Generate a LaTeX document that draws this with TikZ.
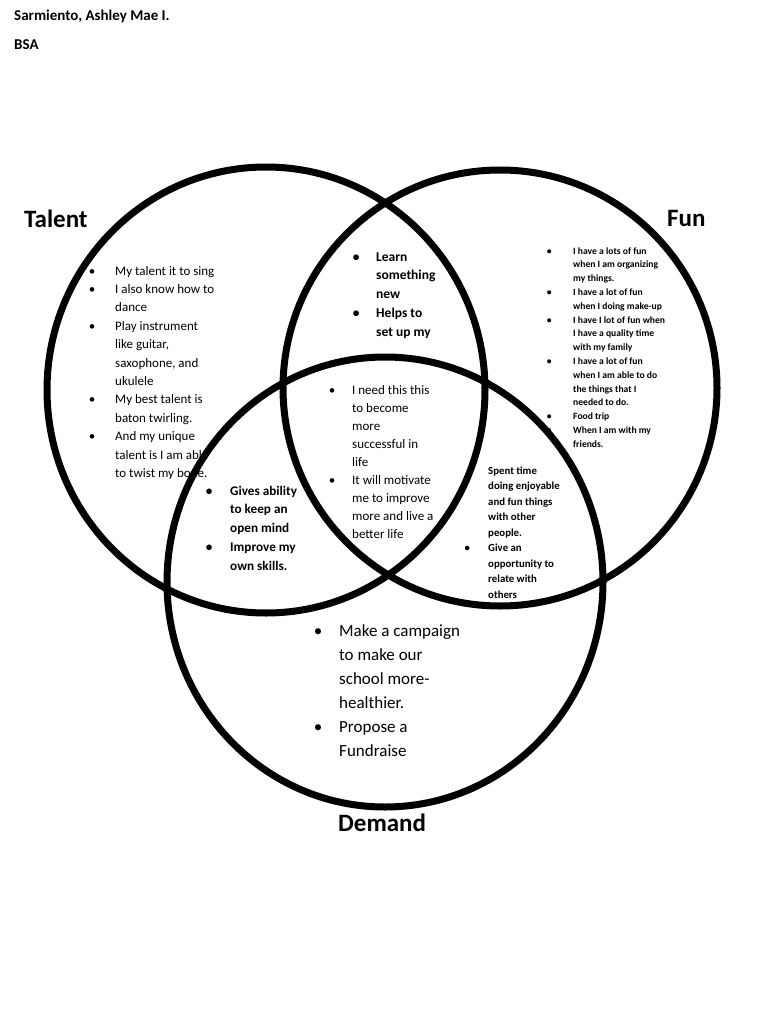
\documentclass[tikz,border=0pt]{standalone}
\usepackage{fontspec}
\setmainfont{Carlito}
\newcommand\bul[1]{\llap{\makebox[0pt]{\textbullet}\hspace{#1pt}}}
\begin{document}
\begin{tikzpicture}[x=1pt,y=-1pt,
  ring/.style={draw=black, line width=7pt},
  lbl/.style={font=\bfseries\fontsize{25}{30}\selectfont, inner sep=0, anchor=base west},
  blk/.style={inner sep=0, anchor=base west, align=left}]
\fill[white] (0,0) rectangle (768,1024);
\useasboundingbox (0,0) rectangle (768,1024);

\node[blk, font=\bfseries\fontsize{15}{18}\selectfont] (name) at (14,20.5) {Sarmiento, Ashley Mae I.};
\node[blk, font=\bfseries\fontsize{15}{18}\selectfont] (course) at (14,49.5) {BSA};

% multi-line blocks: the base anchor is the baseline of the last line
\node[blk, font=\fontsize{13}{18.4}\selectfont] (tal) at (115,477.4) {%
\bul{23}My talent it to sing\\
\bul{23}I also know how to\\
dance\\
\bul{23}Play instrument\\
like guitar,\\
saxophone, and\\
ukulele\\
\bul{23}My best talent is\\
baton twirling.\\
\bul{23}And my unique\\
talent is I am able\\
to twist my bone.};

\node[blk, font=\bfseries\fontsize{13.5}{18.75}\selectfont] (tf) at (376,336) {%
\bul{20}Learn\\
something\\
new\\
\bul{20}Helps to\\
set up my};

\node[blk, font=\bfseries\fontsize{9.6}{13.8}\selectfont] (fun) at (573,447.2) {%
\bul{24}I have a lots of fun\\
when I am organizing\\
my things.\\
\bul{24}I have a lot of fun\\
when I doing make-up\\
\bul{24}I have I lot of fun when\\
I have a quality time\\
with my family\\
\bul{24}I have a lot of fun\\
when I am able to do\\
the things that I\\
needed to do.\\
\bul{24}Food trip\\
\bul{24}When I am with my\\
friends.};

\node[blk, font=\fontsize{13}{18.1}\selectfont] (all) at (352,538.8) {%
\bul{20}I need this this\\
to become\\
more\\
successful in\\
life\\
\bul{20}It will motivate\\
me to improve\\
more and live a\\
better life};

\node[blk, font=\bfseries\fontsize{13.2}{18.75}\selectfont] (td) at (230,570) {%
\bul{21}Gives ability\\
to keep an\\
open mind\\
\bul{21}Improve my\\
own skills.};

\node[blk, font=\bfseries\fontsize{10.8}{15.5}\selectfont] (fd) at (488,598) {%
Spent time\\
doing enjoyable\\
and fun things\\
with other\\
people.\\
\bul{21}Give an\\
opportunity to\\
relate with\\
others};

\node[blk, font=\fontsize{17}{24}\selectfont] (dem) at (339,756) {%
\bul{21}Make a campaign\\
to make our\\
school more-\\
healthier.\\
\bul{21}Propose a\\
Fundraise};

\draw[ring] (266,390) ellipse [x radius=219, y radius=223];
\draw[ring] (500,388) ellipse [x radius=217, y radius=218];
\draw[ring] (385,582) ellipse [x radius=218, y radius=225];

\node[lbl] (talent) at (24,228) {Talent};
\node[lbl] (funl) at (667,226) {Fun};
\node[lbl] (demand) at (338,831) {Demand};
\end{tikzpicture}
\end{document}
